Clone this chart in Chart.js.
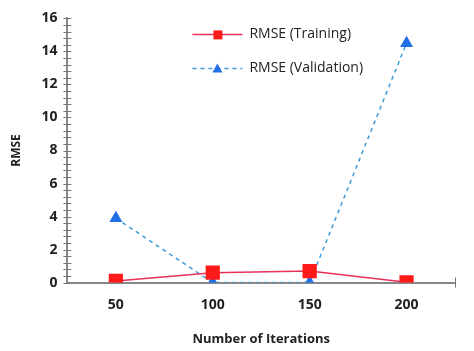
<!DOCTYPE html>
<html>
<head>
<meta charset="utf-8">
<script src="https://cdn.jsdelivr.net/npm/chart.js@4"></script>
<style>
  html, body { margin: 0; padding: 0; background: #fff; }
  #wrap { width: 474px; height: 351px; }
</style>
</head>
<body>
<div id="wrap"><canvas id="myChart"></canvas></div>
<script>
const iterations = ["50", "100", "150", "200"];
const rmseTraining = [0.1, 0.6, 0.7, 0.02];
const rmseValidation = [3.9, 0.0, 0.0, 14.5];

const FONT = "'Open Sans', sans-serif";

// legend drawn inside the plot area, like the original
const insideLegend = {
  id: "insideLegend",
  afterDraw(chart) {
    const c = chart.ctx;
    const area = chart.chartArea;
    const x0 = area.left + 125;
    const rows = [
      { y: area.top + 16, ds: chart.data.datasets[0] },
      { y: area.top + 50, ds: chart.data.datasets[1] },
    ];
    c.save();
    rows.forEach((r) => {
      c.strokeStyle = r.ds.borderColor;
      c.lineWidth = r.ds.borderWidth;
      c.setLineDash(r.ds.borderDash || []);
      c.beginPath();
      c.moveTo(x0, r.y);
      c.lineTo(x0 + 50, r.y);
      c.stroke();
      c.setLineDash([]);
      c.fillStyle = r.ds.pointBackgroundColor;
      if (r.ds.pointStyle === "rect") {
        c.fillRect(x0 + 21, r.y - 4, 9, 9);
      } else {
        c.beginPath();
        c.moveTo(x0 + 25, r.y - 5);
        c.lineTo(x0 + 30, r.y + 4);
        c.lineTo(x0 + 20, r.y + 4);
        c.closePath();
        c.fill();
      }
      c.fillStyle = "#222";
      c.font = "14px " + FONT;
      c.textBaseline = "middle";
      c.fillText(r.ds.label, x0 + 57, r.y);
    });
    c.restore();
  },
};

// small tick marks crossing the y axis every 0.4 (minor unit)
const minorTicks = {
  id: "minorTicks",
  afterDraw(chart) {
    const c = chart.ctx;
    const y = chart.scales.y;
    const x = chart.chartArea.left;
    c.save();
    c.strokeStyle = "#777";
    c.lineWidth = 1;
    for (let i = 0; i <= 40; i++) {
      const py = Math.round(y.getPixelForValue(i * 0.4)) + 0.5;
      c.beginPath();
      c.moveTo(x - 4, py);
      c.lineTo(x + 4, py);
      c.stroke();
    }
    const xEnd = Math.round(chart.chartArea.right) + 0.5;
    const base = y.getPixelForValue(0);
    c.beginPath();
    c.moveTo(xEnd, base - 5);
    c.lineTo(xEnd, base + 5);
    c.stroke();
    c.restore();
  },
};

const ctx = document.getElementById("myChart");

new Chart(ctx, {
  type: "line",
  data: {
    labels: iterations,
    datasets: [
      {
        label: "RMSE (Training)",
        data: rmseTraining,
        borderColor: "#e8305a",
        borderWidth: 1.5,
        pointStyle: "rect",
        pointRadius: 9,
        pointBackgroundColor: "#ff1a1a",
        pointBorderColor: "#ff1a1a",
        tension: 0,
      },
      {
        label: "RMSE (Validation)",
        data: rmseValidation,
        borderColor: "#3a9bd8",
        borderWidth: 1.5,
        borderDash: [4, 4],
        pointStyle: "triangle",
        pointRadius: 6,
        pointBackgroundColor: "#1f6fe6",
        pointBorderColor: "#1f6fe6",
        tension: 0,
      },
    ],
  },
  options: {
    responsive: true,
    maintainAspectRatio: false,
    animation: false,
    layout: { padding: { top: 14, right: 19, left: 5, bottom: 0 } },
    plugins: {
      legend: { display: false },
      tooltip: { enabled: false },
    },
    scales: {
      x: {
        offset: true,
        grid: { display: false },
        border: { display: true, color: "#888", width: 2 },
        ticks: { color: "#222", font: { family: FONT, size: 14, weight: "bold" }, padding: 6 },
        title: {
          display: true,
          text: "Number of Iterations",
          color: "#222",
          font: { family: FONT, size: 13, weight: "bold" },
          padding: { top: 12, bottom: 4 },
        },
      },
      y: {
        min: 0,
        max: 16,
        grid: { drawOnChartArea: false, drawTicks: false },
        border: { display: true, color: "#888", width: 2 },
        ticks: {
          stepSize: 2,
          color: "#222",
          font: { family: FONT, size: 14, weight: "bold" },
          padding: 10,
        },
        title: {
          display: true,
          text: "RMSE",
          color: "#222",
          font: { family: FONT, size: 12, weight: "bold" },
          padding: { bottom: 8 },
        },
      },
    },
  },
  plugins: [insideLegend, minorTicks],
});
</script>
</body>
</html>
